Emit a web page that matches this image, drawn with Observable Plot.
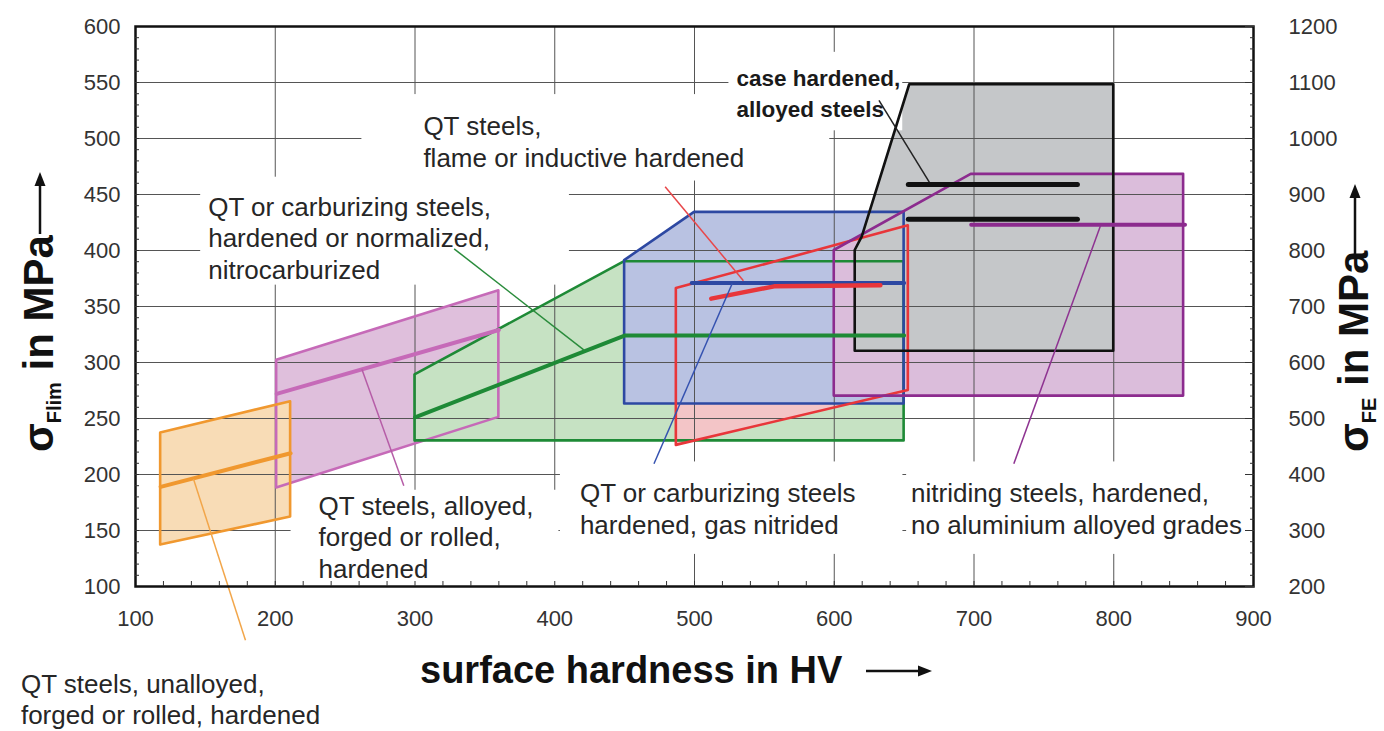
<!DOCTYPE html>
<html>
<head>
<meta charset="utf-8">
<script src="https://cdn.jsdelivr.net/npm/d3@7"></script>
<script src="https://cdn.jsdelivr.net/npm/@observablehq/plot@0.6"></script>
<style>
  html, body { margin: 0; padding: 0; background: #fff; overflow: hidden; }
  #chart svg { display: block; }
</style>
</head>
<body>
<div id="chart"></div>
<script>
// ---- Axes -------------------------------------------------------------
const xTicks = [100, 200, 300, 400, 500, 600, 700, 800, 900];
const yTicks = [100, 150, 200, 250, 300, 350, 400, 450, 500, 550, 600];
const yTicksRightLabels = ["200", "300", "400", "500", "600", "700", "800", "900", "1000", "1100", "1200"];
const xGrid = [200, 300, 400, 500, 600, 700, 800];
const yGrid = [150, 200, 250, 300, 350, 400, 450, 500, 550];
const xMinor = d3.range(120, 900, 20);
const yMinor = d3.range(110, 600, 10);

// ---- Steel groups: hardness HV, lower / upper σFlim and mean line --------
// QT steels, unalloyed
const unalloyedHV = [118, 211];
const unalloyedLow = [137, 162];
const unalloyedHigh = [237, 265];
const unalloyedMidHV = [118, 211];
const unalloyedMid = [189, 219];

// QT steels, alloyed
const alloyedHV = [201, 360];
const alloyedLow = [188, 251];
const alloyedHigh = [302, 364];
const alloyedMidHV = [201, 360];
const alloyedMid = [272, 329];

// QT or carburizing steels, nitrocarburized
const nitrocarbHV = [300, 450, 650];
const nitrocarbLow = [230, 230, 230];
const nitrocarbHigh = [289, 390, 390];
const nitrocarbMidHV = [300, 450, 650];
const nitrocarbMid = [251, 324, 324];

// QT steels, flame or inductive hardened
const flameHV = [487, 653];
const flameLow = [226, 275];
const flameHigh = [366, 422];
const flameMidHV = [512, 557, 633];
const flameMid = [357, 368, 369];

// QT or carburizing steels, gas nitrided
const gasHV = [450, 500, 650];
const gasLow = [263, 263, 263];
const gasHigh = [391, 434, 434];
const gasMidHV = [498, 650];
const gasMid = [371, 371];

// nitriding steels
const nitridingHV = [600, 698, 850];
const nitridingLow = [270, 270, 270];
const nitridingHigh = [400, 468, 468];
const nitridingMidHV = [698, 851];
const nitridingMid = [423, 423];

// case hardened, alloyed steels
const caseHV = [615, 620, 654, 800];
const caseLow = [310, 310, 310, 310];
const caseHigh = [400, 412, 548, 548];
const caseBarHV = [653, 774];
const caseBarUpper = [459, 459];
const caseBarLower = [428, 428];

// ---- Labels and their leader lines ---------------------------------------
const labelText = [
  "QT or carburizing steels,\nhardened or normalized,\nnitrocarburized",
  "QT steels,\nflame or inductive hardened",
  "QT steels, alloyed,\nforged or rolled,\nhardened",
  "QT or carburizing steels\nhardened, gas nitrided",
  "nitriding steels, hardened,\nno aluminium alloyed grades",
  "QT steels, unalloyed,\nforged or rolled, hardened"
];
const labelHV = [152, 306, 231, 418, 655, 18];
const labelMPa = [451, 523, 184, 195, 195, 25];

const boldLabelText = ["case hardened,\nalloyed steels"];
const boldLabelHV = [530];
const boldLabelMPa = [567];

const leaderX1 = [141.5, 262, 328, 479, 471, 632, 728.5];
const leaderY1 = [196, 294, 401.5, 457, 209.6, 534, 209.6];
const leaderX2 = [178.7, 292, 421, 535, 527, 668, 790.5];
const leaderY2 = [52, 190, 311, 373, 370.5, 461, 422];
const leaderColor = ["#f2a64a", "#b65da7", "#2a8c3c", "#e8474a", "#3552b0", "#222222", "#8e3391"];

// ---- Styling -------------------------------------------------------------
const rowsBand = (hv, lo, hi) => hv.map((x, i) => ({x, y1: lo[i], y2: hi[i]}));
const rowsLine = (hv, v) => hv.map((x, i) => ({x, y: v[i]}));

const groups = {
  alloyed:   {band: rowsBand(alloyedHV, alloyedLow, alloyedHigh), lines: [rowsLine(alloyedMidHV, alloyedMid)], fill: "#dfbfdc", stroke: "#c66ab8"},
  unalloyed: {band: rowsBand(unalloyedHV, unalloyedLow, unalloyedHigh), lines: [rowsLine(unalloyedMidHV, unalloyedMid)], fill: "#f8dcb6", stroke: "#f0982f"},
  nitrocarb: {band: rowsBand(nitrocarbHV, nitrocarbLow, nitrocarbHigh), lines: [rowsLine(nitrocarbMidHV, nitrocarbMid)], fill: "#c6e2c3", stroke: "#1e8a36"},
  flame:     {band: rowsBand(flameHV, flameLow, flameHigh), lines: [rowsLine(flameMidHV, flameMid)], fill: "#f3c5c7", stroke: "#e8363a"},
  gas:       {band: rowsBand(gasHV, gasLow, gasHigh), lines: [rowsLine(gasMidHV, gasMid)], fill: "#b9c2e2", stroke: "#2d48a2"},
  nitriding: {band: rowsBand(nitridingHV, nitridingLow, nitridingHigh), lines: [rowsLine(nitridingMidHV, nitridingMid)], fill: "#dbbddb", stroke: "#8c2b8e"},
  caseHard:  {band: rowsBand(caseHV, caseLow, caseHigh), lines: [rowsLine(caseBarHV, caseBarUpper), rowsLine(caseBarHV, caseBarLower)], fill: "#c5c7c9", stroke: "#111111"}
};
const fillOrder = ["alloyed", "unalloyed", "nitrocarb", "flame", "gas", "nitriding", "caseHard"];
const strokeOrder = ["alloyed", "unalloyed", "nitrocarb", "gas", "flame", "nitriding", "caseHard"];
const lineWidth = {alloyed: 4, unalloyed: 4, nitrocarb: 4, flame: 4.5, gas: 4, nitriding: 4, caseHard: 5};

// white box around each label: [left, top, right, bottom] padding in px
const labelPad = [[8, 15, 78, 0], [62, 17, 85, 8], [28, 1, 25, 8], [20, 17, 47, 14], [5, 17, 11, 14], [0, 0, 0, 0]];
const boldLabelPad = [[8, 14, 2, 8]];

const labels = labelText.map((text, i) => ({text, x: labelHV[i], y: labelMPa[i]}));
const boldLabels = boldLabelText.map((text, i) => ({text, x: boldLabelHV[i], y: boldLabelMPa[i]}));
const leaders = leaderX1.map((x1, i) => ({x1, y1: leaderY1[i], x2: leaderX2[i], y2: leaderY2[i], color: leaderColor[i]}));

const FONT = "Liberation Sans, Arial, Helvetica, sans-serif";
const KNOCKOUT = "#fffffe";      // placeholder texts that become white boxes
const KNOCKOUT_BOLD = "#fffffd";
const textOpts = {x: "x", y: "y", text: "text", textAnchor: "start", lineAnchor: "top", fontSize: 26, lineHeight: 1.21};
const boldOpts = {x: "x", y: "y", text: "text", textAnchor: "start", lineAnchor: "top", fontSize: 22.5, fontWeight: "bold", lineHeight: 1.4};

const marks = [];
// filled regions
for (const k of fillOrder) {
  const g = groups[k];
  marks.push(Plot.areaY(g.band, {x: "x", y1: "y1", y2: "y2", fill: g.fill}));
}
// grid drawn over the fills
marks.push(Plot.gridX({ticks: xGrid, stroke: "#555", strokeOpacity: 1, strokeWidth: 1}));
marks.push(Plot.gridY({ticks: yGrid, stroke: "#555", strokeOpacity: 1, strokeWidth: 1}));
// placeholders for the white boxes behind the labels
marks.push(Plot.text(labels, {...textOpts, fill: KNOCKOUT}));
marks.push(Plot.text(boldLabels, {...boldOpts, fill: KNOCKOUT_BOLD}));
// outlines
for (const k of strokeOrder) {
  const g = groups[k];
  marks.push(Plot.areaY(g.band, {x: "x", y1: "y1", y2: "y2", fill: "none", stroke: g.stroke, strokeWidth: 2.6, strokeLinejoin: "round"}));
}
// mean / characteristic lines
for (const k of strokeOrder) {
  const g = groups[k];
  for (const line of g.lines) {
    marks.push(Plot.line(line, {x: "x", y: "y", stroke: g.stroke, strokeWidth: lineWidth[k], strokeLinecap: "round"}));
  }
}
// leader lines
marks.push(Plot.link(leaders, {x1: "x1", y1: "y1", x2: "x2", y2: "y2", stroke: "color", strokeWidth: 1.5}));
// labels
marks.push(Plot.text(labels, {...textOpts, fill: "#262626"}));
marks.push(Plot.text(boldLabels, {...boldOpts, fill: "#1a1a1a"}));
// frame, minor ticks and axes
marks.push(Plot.frame({stroke: "#111", strokeWidth: 2.5}));
marks.push(Plot.axisY({anchor: "left", ticks: yMinor, tickSize: -4, tickFormat: () => "", label: null, stroke: "#333"}));
marks.push(Plot.axisY({anchor: "right", ticks: yMinor, tickSize: -4, tickFormat: () => "", label: null, stroke: "#333"}));
marks.push(Plot.axisY({anchor: "right", ticks: yTicks, tickSize: -9, tickFormat: () => "", label: null, stroke: "#333"}));
marks.push(Plot.axisX({anchor: "bottom", ticks: xMinor, tickSize: -5, tickFormat: () => "", label: null, stroke: "#333"}));
marks.push(Plot.axisY({anchor: "left", ticks: yTicks, tickSize: 0, tickPadding: 15, label: null, fill: "#333", fontSize: 22}));
marks.push(Plot.axisY({anchor: "right", ticks: yTicks, tickSize: 0, tickPadding: 35, label: null, fill: "#333", fontSize: 22,
  tickFormat: (d) => yTicksRightLabels[yTicks.indexOf(d)]}));
marks.push(Plot.axisX({anchor: "bottom", ticks: xTicks, tickSize: 0, tickPadding: 24, label: null, fill: "#333", fontSize: 22}));

const chart = Plot.plot({
  width: 1384,
  height: 731,
  marginLeft: 135,
  marginRight: 131,
  marginTop: 26,
  marginBottom: 145,
  x: {domain: [100, 900]},
  y: {domain: [100, 600]},
  style: {fontFamily: FONT, fontSize: "22px", background: "white", color: "#333", overflow: "visible"},
  marks
});
document.getElementById("chart").appendChild(chart);

const svg = d3.select(chart);

// Turn the placeholder texts into white boxes that hide the grid behind each label
function knockOut(fill, pads) {
  svg.selectAll(`g[fill='${fill}'] text`).each(function (_, i) {
    const box = this.getBBox();
    const [l, t, r, b] = pads[i];
    d3.select(this.parentNode).insert("rect", () => this)
      .attr("x", box.x - l)
      .attr("y", box.y - t)
      .attr("width", box.width + l + r)
      .attr("height", box.height + t + b)
      .attr("transform", this.getAttribute("transform"))
      .attr("fill", "white");
    this.remove();
  });
}
knockOut(KNOCKOUT, labelPad);
knockOut(KNOCKOUT_BOLD, boldLabelPad);

// Axis titles with subscripts and arrows
const titles = svg.append("g")
  .attr("font-family", FONT)
  .attr("font-weight", "bold")
  .attr("text-anchor", "start")
  .attr("fill", "#111");

function arrowUp(g, x, yFrom, yTo) {
  g.append("line").attr("x1", x).attr("x2", x).attr("y1", yFrom).attr("y2", yTo + 10)
    .attr("stroke", "#111").attr("stroke-width", 2.5);
  g.append("path").attr("d", `M${x},${yTo} L${x - 5.5},${yTo + 14} L${x + 5.5},${yTo + 14} Z`).attr("fill", "#111");
}
function arrowRight(g, y, xFrom, xTo) {
  g.append("line").attr("x1", xFrom).attr("x2", xTo - 10).attr("y1", y).attr("y2", y)
    .attr("stroke", "#111").attr("stroke-width", 2.5);
  g.append("path").attr("d", `M${xTo},${y} L${xTo - 14},${y - 5.5} L${xTo - 14},${y + 5.5} Z`).attr("fill", "#111");
}

const left = titles.append("text").attr("transform", "translate(53,452) rotate(-90)").attr("font-size", 42);
left.append("tspan").text("σ");
left.append("tspan").attr("font-size", 20).attr("dy", 8).text("Flim");
left.append("tspan").attr("dy", -8).text(" in MPa");
arrowUp(titles, 40, 234, 172);

const right = titles.append("text").attr("transform", "translate(1368,452) rotate(-90)").attr("font-size", 42);
right.append("tspan").text("σ");
right.append("tspan").attr("font-size", 20).attr("dy", 8).text("FE");
right.append("tspan").attr("dy", -8).text(" in MPa");
arrowUp(titles, 1355, 256, 184);

titles.append("text").attr("x", 420).attr("y", 683).attr("font-size", 38).text("surface hardness in HV");
arrowRight(titles, 671, 866, 932);
</script>
</body>
</html>
